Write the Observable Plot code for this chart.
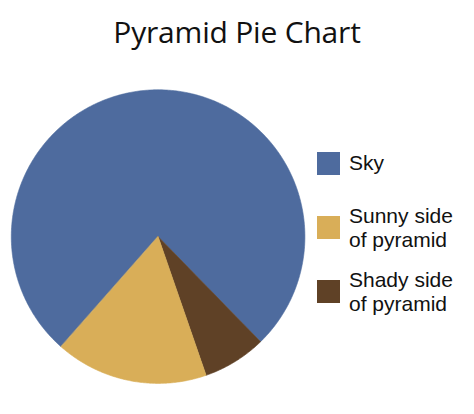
<!DOCTYPE html>
<html><head><meta charset="utf-8">
<script src="https://cdn.jsdelivr.net/npm/d3@7"></script>
<script src="https://cdn.jsdelivr.net/npm/@observablehq/plot@0.6"></script>
<style>
body{margin:0;background:#fff;font-family:"Open Sans",sans-serif;color:#111;}
#wrap{position:relative;width:474px;height:414px;overflow:hidden;}
#title{position:absolute;left:0;top:17px;width:474px;text-align:center;font-size:30px;line-height:30px;letter-spacing:-0.2px;}
#chart{position:absolute;left:0;top:70px;}
#legend{position:absolute;left:317px;top:131px;}
.item{display:flex;align-items:center;height:64.4px;}
.sw{width:23px;height:23px;flex:none;margin-right:9px;}
.lab{font-family:"Liberation Sans",Arial,sans-serif;font-size:21px;}
.ln{line-height:23.6px;height:23.6px;white-space:nowrap;}
</style></head><body>
<div id="wrap"><div id="title">Pyramid Pie Chart</div><div id="chart"></div><div id="legend"></div></div>
<script>
const labels = ["Sky", "Sunny side of pyramid", "Shady side of pyramid"];
const values = [76.2, 16.8, 7.0];
const colors = ["#4e6b9e", "#d9ae58", "#5f4126"];
const legendLines = [["Sky"], ["Sunny side", "of pyramid"], ["Shady side", "of pyramid"]];
const pieOrder = [0, 2, 1]; // clockwise order of the slices
const startDeg = 221.4;

const start = startDeg * Math.PI / 180;
const arcs = d3.pie().value(i => values[i]).sort(null)
  .startAngle(start).endAngle(start + 2 * Math.PI)(pieOrder);
const pts = [];
for (const a of arcs) {
  const label = labels[a.data];
  pts.push({label, x: 0, y: 0});
  const n = Math.max(8, Math.ceil((a.endAngle - a.startAngle) / 0.01));
  for (let k = 0; k <= n; k++) {
    const t = a.startAngle + (a.endAngle - a.startAngle) * k / n;
    pts.push({label, x: Math.sin(t), y: Math.cos(t)});
  }
}
const plot = Plot.plot({
  width: 316, height: 330, margin: 0,
  x: {domain: [-1, 1], range: [10.8, 304.4], axis: null},
  y: {domain: [-1, 1], range: [312.9, 19.3], axis: null},
  color: {domain: labels, range: colors},
  marks: [
    Plot.line(pts, {x: "x", y: "y", z: "label", fill: "label", stroke: "label", strokeWidth: 0.6, curve: "linear-closed"})
  ]
});
document.getElementById("chart").appendChild(plot);
const leg = document.getElementById("legend");
labels.forEach((l, i) => {
  const it = document.createElement("div"); it.className = "item";
  const sw = document.createElement("div"); sw.className = "sw"; sw.style.background = colors[i];
  const lb = document.createElement("div"); lb.className = "lab";
  legendLines[i].forEach(t => {
    const d = document.createElement("div"); d.className = "ln"; d.textContent = t; lb.appendChild(d);
  });
  it.appendChild(sw); it.appendChild(lb); leg.appendChild(it);
});
</script>
</body></html>
